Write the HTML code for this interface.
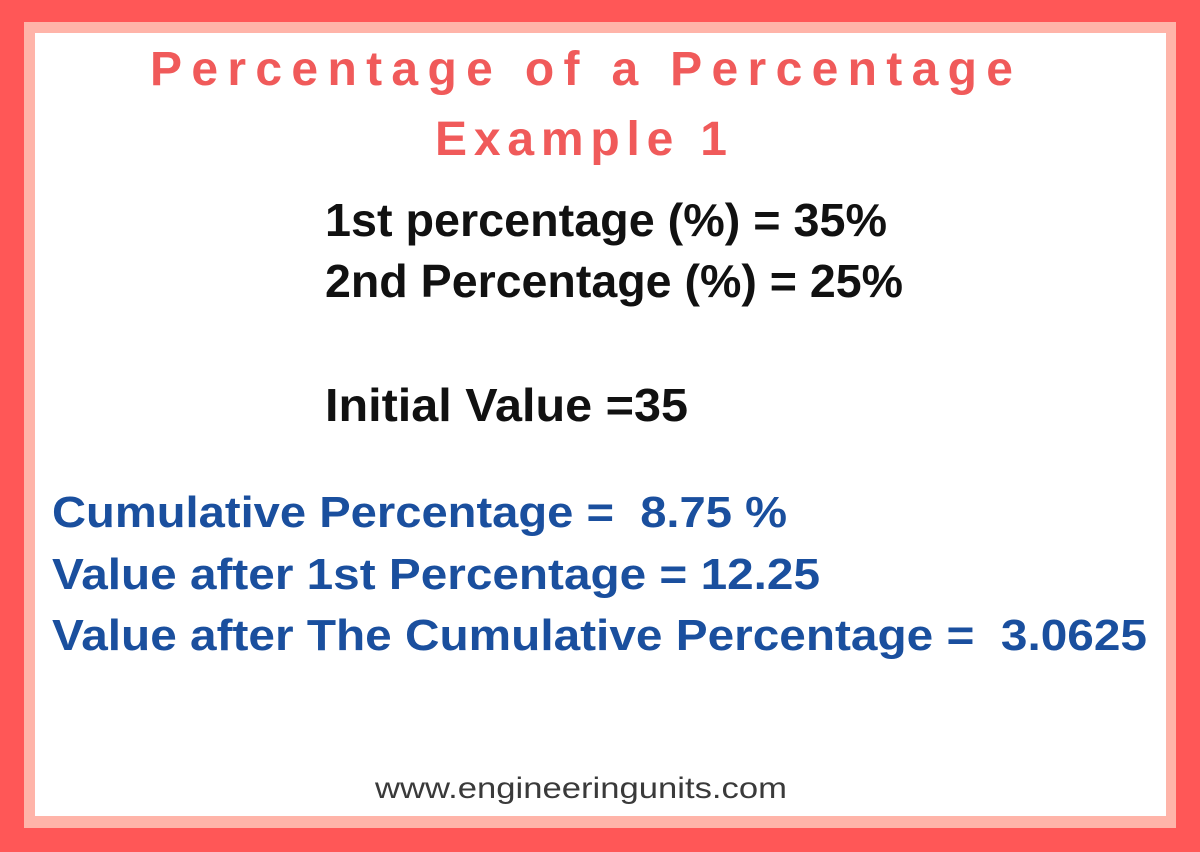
<!DOCTYPE html>
<html>
<head>
<meta charset="utf-8">
<style>
  html, body { margin: 0; padding: 0; background: #FF5757; }
  svg { display: block; }
  text { white-space: pre; }
</style>
</head>
<body>
<svg width="1200" height="852" viewBox="0 0 1200 852" xmlns="http://www.w3.org/2000/svg">
  <rect x="0" y="0" width="1200" height="852" fill="#FF5757"/>
  <rect x="24" y="22" width="1152" height="806" fill="#FFB4A9"/>
  <rect x="35" y="33" width="1131" height="783" fill="#FFFFFF"/>

  <g font-family="'Liberation Sans', 'DejaVu Sans', sans-serif" font-weight="bold" fill="#F05A5A" font-size="48">
    <text x="150" y="85" textLength="863" lengthAdjust="spacing">Percentage of a Percentage</text>
    <text x="435" y="155" textLength="292" lengthAdjust="spacing">Example 1</text>
  </g>

  <g font-family="'Liberation Sans', 'DejaVu Sans', sans-serif" font-weight="bold" fill="#111111" font-size="46">
    <text x="325" y="236" textLength="562" lengthAdjust="spacingAndGlyphs">1st percentage (%) = 35%</text>
    <text x="325" y="297" textLength="578" lengthAdjust="spacingAndGlyphs">2nd Percentage (%) = 25%</text>
    <text x="325" y="421" textLength="363" lengthAdjust="spacingAndGlyphs">Initial Value =35</text>
  </g>

  <g font-family="'Liberation Sans', 'DejaVu Sans', sans-serif" font-weight="bold" fill="#1A4F9E" font-size="44">
    <text x="52" y="527" textLength="735" lengthAdjust="spacingAndGlyphs">Cumulative Percentage =  8.75 %</text>
    <text x="52" y="589" textLength="768" lengthAdjust="spacingAndGlyphs">Value after 1st Percentage = 12.25</text>
    <text x="52" y="650" textLength="1095" lengthAdjust="spacingAndGlyphs">Value after The Cumulative Percentage =  3.0625</text>
  </g>

  <text x="375" y="798" font-family="'Liberation Sans', 'DejaVu Sans', sans-serif" font-size="30" fill="#3A3A3A" textLength="412" lengthAdjust="spacingAndGlyphs">www.engineeringunits.com</text>
</svg>
</body>
</html>
